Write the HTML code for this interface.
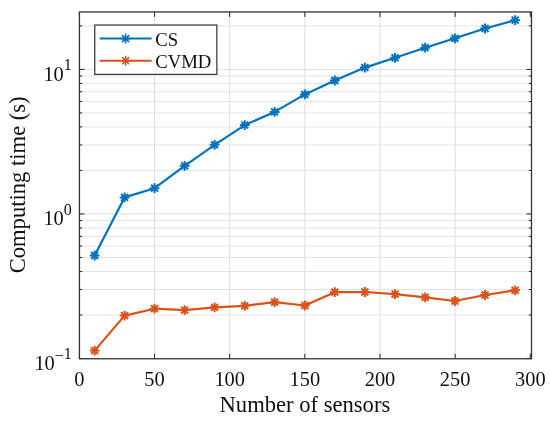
<!DOCTYPE html>
<html><head><meta charset="utf-8"><style>
html,body{margin:0;padding:0;background:#fff;width:550px;height:421px;overflow:hidden}
svg{display:block}
.gM{stroke:#dedede;stroke-width:1}
.gm{stroke:#e4e4e4;stroke-width:1}
text{font-family:"Liberation Serif","Times New Roman",serif;fill:#111}
.t{font-size:20.4px}
.sup{font-size:16.01px}
.l{font-size:22.6px}
.lg{font-size:18.7px}
</style></head><body>
<svg width="550" height="421" viewBox="0 0 550 421">
<rect width="550" height="421" fill="#fff"/>
<line x1="154.55" y1="11.95" x2="154.55" y2="358.75" class="gM"/>
<line x1="229.70" y1="11.95" x2="229.70" y2="358.75" class="gM"/>
<line x1="304.85" y1="11.95" x2="304.85" y2="358.75" class="gM"/>
<line x1="380.00" y1="11.95" x2="380.00" y2="358.75" class="gM"/>
<line x1="455.15" y1="11.95" x2="455.15" y2="358.75" class="gM"/>
<line x1="79.45" y1="314.99" x2="531.5" y2="314.99" class="gm"/>
<line x1="79.45" y1="289.53" x2="531.5" y2="289.53" class="gm"/>
<line x1="79.45" y1="271.47" x2="531.5" y2="271.47" class="gm"/>
<line x1="79.45" y1="257.46" x2="531.5" y2="257.46" class="gm"/>
<line x1="79.45" y1="246.02" x2="531.5" y2="246.02" class="gm"/>
<line x1="79.45" y1="236.34" x2="531.5" y2="236.34" class="gm"/>
<line x1="79.45" y1="227.96" x2="531.5" y2="227.96" class="gm"/>
<line x1="79.45" y1="220.56" x2="531.5" y2="220.56" class="gm"/>
<line x1="79.45" y1="170.44" x2="531.5" y2="170.44" class="gm"/>
<line x1="79.45" y1="144.98" x2="531.5" y2="144.98" class="gm"/>
<line x1="79.45" y1="126.92" x2="531.5" y2="126.92" class="gm"/>
<line x1="79.45" y1="112.91" x2="531.5" y2="112.91" class="gm"/>
<line x1="79.45" y1="101.47" x2="531.5" y2="101.47" class="gm"/>
<line x1="79.45" y1="91.79" x2="531.5" y2="91.79" class="gm"/>
<line x1="79.45" y1="83.41" x2="531.5" y2="83.41" class="gm"/>
<line x1="79.45" y1="76.01" x2="531.5" y2="76.01" class="gm"/>
<line x1="79.45" y1="25.89" x2="531.5" y2="25.89" class="gm"/>
<line x1="79.45" y1="213.95" x2="531.5" y2="213.95" class="gM"/>
<line x1="79.45" y1="69.40" x2="531.5" y2="69.40" class="gM"/>
<path d="M94.65 255.50 L124.60 197.40 L154.55 188.20 L184.65 165.80 L214.60 144.80 L244.75 125.10 L274.65 111.90 L304.85 94.40 L334.75 80.50 L364.85 67.60 L395.05 57.80 L425.15 47.70 L454.85 38.30 L485.05 28.50 L515.15 20.20" fill="none" stroke="#0072BD" stroke-width="2.2" stroke-linejoin="round"/>
<path d="M89.75 255.50H99.55M94.65 250.60V260.40M91.19 252.04L98.11 258.96M91.19 258.96L98.11 252.04M119.70 197.40H129.50M124.60 192.50V202.30M121.14 193.94L128.06 200.86M121.14 200.86L128.06 193.94M149.65 188.20H159.45M154.55 183.30V193.10M151.09 184.74L158.01 191.66M151.09 191.66L158.01 184.74M179.75 165.80H189.55M184.65 160.90V170.70M181.19 162.34L188.11 169.26M181.19 169.26L188.11 162.34M209.70 144.80H219.50M214.60 139.90V149.70M211.14 141.34L218.06 148.26M211.14 148.26L218.06 141.34M239.85 125.10H249.65M244.75 120.20V130.00M241.29 121.64L248.21 128.56M241.29 128.56L248.21 121.64M269.75 111.90H279.55M274.65 107.00V116.80M271.19 108.44L278.11 115.36M271.19 115.36L278.11 108.44M299.95 94.40H309.75M304.85 89.50V99.30M301.39 90.94L308.31 97.86M301.39 97.86L308.31 90.94M329.85 80.50H339.65M334.75 75.60V85.40M331.29 77.04L338.21 83.96M331.29 83.96L338.21 77.04M359.95 67.60H369.75M364.85 62.70V72.50M361.39 64.14L368.31 71.06M361.39 71.06L368.31 64.14M390.15 57.80H399.95M395.05 52.90V62.70M391.59 54.34L398.51 61.26M391.59 61.26L398.51 54.34M420.25 47.70H430.05M425.15 42.80V52.60M421.69 44.24L428.61 51.16M421.69 51.16L428.61 44.24M449.95 38.30H459.75M454.85 33.40V43.20M451.39 34.84L458.31 41.76M451.39 41.76L458.31 34.84M480.15 28.50H489.95M485.05 23.60V33.40M481.59 25.04L488.51 31.96M481.59 31.96L488.51 25.04M510.25 20.20H520.05M515.15 15.30V25.10M511.69 16.74L518.61 23.66M511.69 23.66L518.61 16.74" fill="none" stroke="#0072BD" stroke-width="2.0"/>
<path d="M94.65 350.60 L124.60 315.60 L154.55 308.70 L184.65 310.10 L214.60 307.30 L244.75 305.80 L274.65 302.20 L304.85 305.50 L334.75 292.20 L364.85 292.00 L395.05 294.10 L425.15 297.30 L454.85 301.00 L485.05 295.00 L515.15 290.30" fill="none" stroke="#D95319" stroke-width="2.2" stroke-linejoin="round"/>
<path d="M89.75 350.60H99.55M94.65 345.70V355.50M91.19 347.14L98.11 354.06M91.19 354.06L98.11 347.14M119.70 315.60H129.50M124.60 310.70V320.50M121.14 312.14L128.06 319.06M121.14 319.06L128.06 312.14M149.65 308.70H159.45M154.55 303.80V313.60M151.09 305.24L158.01 312.16M151.09 312.16L158.01 305.24M179.75 310.10H189.55M184.65 305.20V315.00M181.19 306.64L188.11 313.56M181.19 313.56L188.11 306.64M209.70 307.30H219.50M214.60 302.40V312.20M211.14 303.84L218.06 310.76M211.14 310.76L218.06 303.84M239.85 305.80H249.65M244.75 300.90V310.70M241.29 302.34L248.21 309.26M241.29 309.26L248.21 302.34M269.75 302.20H279.55M274.65 297.30V307.10M271.19 298.74L278.11 305.66M271.19 305.66L278.11 298.74M299.95 305.50H309.75M304.85 300.60V310.40M301.39 302.04L308.31 308.96M301.39 308.96L308.31 302.04M329.85 292.20H339.65M334.75 287.30V297.10M331.29 288.74L338.21 295.66M331.29 295.66L338.21 288.74M359.95 292.00H369.75M364.85 287.10V296.90M361.39 288.54L368.31 295.46M361.39 295.46L368.31 288.54M390.15 294.10H399.95M395.05 289.20V299.00M391.59 290.64L398.51 297.56M391.59 297.56L398.51 290.64M420.25 297.30H430.05M425.15 292.40V302.20M421.69 293.84L428.61 300.76M421.69 300.76L428.61 293.84M449.95 301.00H459.75M454.85 296.10V305.90M451.39 297.54L458.31 304.46M451.39 304.46L458.31 297.54M480.15 295.00H489.95M485.05 290.10V299.90M481.59 291.54L488.51 298.46M481.59 298.46L488.51 291.54M510.25 290.30H520.05M515.15 285.40V295.20M511.69 286.84L518.61 293.76M511.69 293.76L518.61 286.84" fill="none" stroke="#D95319" stroke-width="2.0"/>
<path d="M79.40 358.75V353.75M79.40 11.95V16.95M154.55 358.75V353.75M154.55 11.95V16.95M229.70 358.75V353.75M229.70 11.95V16.95M304.85 358.75V353.75M304.85 11.95V16.95M380.00 358.75V353.75M380.00 11.95V16.95M455.15 358.75V353.75M455.15 11.95V16.95M530.30 358.75V353.75M530.30 11.95V16.95M79.45 358.50H84.45M531.5 358.50H526.5M79.45 213.95H84.45M531.5 213.95H526.5M79.45 69.40H84.45M531.5 69.40H526.5M79.45 314.99H82.15M531.5 314.99H528.8M79.45 289.53H82.15M531.5 289.53H528.8M79.45 271.47H82.15M531.5 271.47H528.8M79.45 257.46H82.15M531.5 257.46H528.8M79.45 246.02H82.15M531.5 246.02H528.8M79.45 236.34H82.15M531.5 236.34H528.8M79.45 227.96H82.15M531.5 227.96H528.8M79.45 220.56H82.15M531.5 220.56H528.8M79.45 170.44H82.15M531.5 170.44H528.8M79.45 144.98H82.15M531.5 144.98H528.8M79.45 126.92H82.15M531.5 126.92H528.8M79.45 112.91H82.15M531.5 112.91H528.8M79.45 101.47H82.15M531.5 101.47H528.8M79.45 91.79H82.15M531.5 91.79H528.8M79.45 83.41H82.15M531.5 83.41H528.8M79.45 76.01H82.15M531.5 76.01H528.8M79.45 25.89H82.15M531.5 25.89H528.8" stroke="#262626" stroke-width="1" fill="none"/>
<rect x="79.45" y="11.95" width="452.05" height="346.80" fill="none" stroke="#333" stroke-width="1.3"/>
<text x="79.40" y="386.4" class="t" text-anchor="middle">0</text>
<text x="154.55" y="386.4" class="t" text-anchor="middle">50</text>
<text x="229.70" y="386.4" class="t" text-anchor="middle">100</text>
<text x="304.85" y="386.4" class="t" text-anchor="middle">150</text>
<text x="380.00" y="386.4" class="t" text-anchor="middle">200</text>
<text x="455.15" y="386.4" class="t" text-anchor="middle">250</text>
<text x="530.30" y="386.4" class="t" text-anchor="middle">300</text>
<text x="71.8" y="369.60" class="t" text-anchor="end">10<tspan class="sup"><tspan dy="-8.3">&#8722;</tspan><tspan dy="-2">1</tspan></tspan></text>
<text x="71.8" y="225.05" class="t" text-anchor="end">10<tspan class="sup"><tspan dy="-10.3">0</tspan></tspan></text>
<text x="71.8" y="80.50" class="t" text-anchor="end">10<tspan class="sup"><tspan dy="-10.3">1</tspan></tspan></text>
<text x="304.9" y="412.1" class="l" text-anchor="middle">Number of sensors</text>
<text transform="translate(24.9 184.85) rotate(-90)" class="l" text-anchor="middle">Computing time (s)</text>
<rect x="94.75" y="25.05" width="122.1" height="49.35" fill="#fff" stroke="#3a3a3a" stroke-width="1.25"/>
<path d="M99.7 38.6H151.6" stroke="#0072BD" stroke-width="2"/>
<path d="M120.60 38.60H130.60M125.60 33.60V43.60M122.06 35.06L129.14 42.14M122.06 42.14L129.14 35.06" stroke="#0072BD" stroke-width="1.6" fill="none"/>
<text x="155.3" y="45.60" class="lg">CS</text>
<path d="M99.7 60.7H151.6" stroke="#D95319" stroke-width="2"/>
<path d="M120.60 60.70H130.60M125.60 55.70V65.70M122.06 57.16L129.14 64.24M122.06 64.24L129.14 57.16" stroke="#D95319" stroke-width="1.6" fill="none"/>
<text x="155.3" y="67.70" class="lg">CVMD</text>
</svg>
</body></html>
